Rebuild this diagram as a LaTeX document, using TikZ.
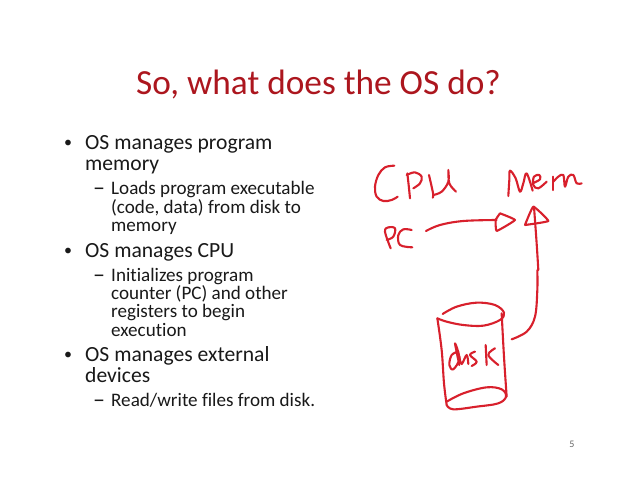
\documentclass[tikz,border=0pt]{standalone}
\usepackage{fontspec}
\setmainfont{Carlito}[Ligatures=NoCommon]
\definecolor{titlered}{RGB}{172,22,30}
\definecolor{ink}{RGB}{216,32,44}
\tikzset{
  x=1pt,y=-1pt,
  ttl/.style={anchor=base west,text=titlered,font=\fontsize{35.3}{35}\selectfont,inner sep=0},
  big/.style={anchor=base west,font=\fontsize{21.6}{22}\selectfont,inner sep=0,text=black!90},
  small/.style={anchor=base west,font=\fontsize{19.1}{19}\selectfont,inner sep=0,text=black!90},
  dot/.style={anchor=base west,font=\fontsize{16}{16}\selectfont,inner sep=0,text=black!90},
  dashmark/.style={anchor=base west,font=\fontsize{24}{24}\selectfont,inner sep=0,text=black!90},
  pen/.style={draw=ink,line width=2.1pt,line cap=round,line join=round,smooth,tension=0.6}
}
\begin{document}
\begin{tikzpicture}
\useasboundingbox (0,0) rectangle (638,493);
\fill[white] (0,0) rectangle (638,493);
\node[ttl] (title) at (136,94) {So, what does the OS do?};
\node[dot] (b1) at (64,147) {•};
\node[big] (t1a) at (85,149) {OS manages program};
\node[big] (t1b) at (85,170) {memory};
\node[dashmark] (d1) at (93,195) {–};
\node[small] (s1a) at (111,194) {Loads program executable};
\node[small] (s1b) at (111,213) {(code, data) from disk to};
\node[small] (s1c) at (111,231) {memory};
\node[dot] (b2) at (64,255) {•};
\node[big] (t2) at (85,257) {OS manages CPU};
\node[dashmark] (d2) at (93,282) {–};
\node[small] (s2a) at (111,281) {Initializes program};
\node[small] (s2b) at (111,299) {counter (PC) and other};
\node[small] (s2c) at (111,317) {registers to begin};
\node[small] (s2d) at (111,336) {execution};
\node[dot] (b3) at (64,359) {•};
\node[big] (t3a) at (85,361) {OS manages external};
\node[big] (t3b) at (85,382) {devices};
\node[dashmark] (d3) at (93,407) {–};
\node[small] (s3) at (111,406) {Read/write files from disk.};
\node[anchor=base,inner sep=0,font=\fontsize{10}{10}\selectfont,text=black!60] (pg) at (572,447) {5};
\begin{scope}[shift={(350,150)},x=0.3333pt,y=-0.3333pt]
% CPU
\draw[pen] plot coordinates {(133,47)(105,52)(85,75)(75,110)(80,140)(100,153)(125,150)(143,140)};
\draw[pen] plot coordinates {(172,70)(176,105)(180,145)};
\draw[pen] plot coordinates {(170,75)(195,67)(215,80)(210,100)(190,115)};
\draw[pen] plot coordinates {(237,75)(245,110)(250,135)(248,143)};
\draw[pen] plot coordinates {(250,135)(275,125)(295,95)(295,60)(298,100)(318,125)};
% Mem
\draw[pen] plot coordinates {(475,138)(478,90)(480,62)(497,85)(510,125)(520,100)(530,70)(548,122)};
\draw[pen] plot coordinates {(548,100)(570,88)(568,75)(552,80)(550,105)(565,115)(590,95)};
\draw[pen] plot coordinates {(610,80)(610,120)};
\draw[pen] plot coordinates {(610,95)(625,80)(640,75)(645,110)(655,80)(670,75)(680,100)(695,100)};
% PC
\draw[pen] plot coordinates {(122,295)(105,245)(115,232)(135,235)(130,260)(110,270)};
\draw[pen] plot coordinates {(185,240)(160,238)(145,255)(150,285)(187,292)};
% arrow PC to Mem
\draw[pen] plot coordinates {(228,243)(270,225)(340,213)(440,210)};
\draw[pen,tension=0.2] plot coordinates {(450,190)(495,210)(440,243)(437,210)(450,190)};
% arrow disk to Mem
\draw[pen] plot coordinates {(565,360)(560,280)(552,170)};
\draw[pen,tension=0.2] plot coordinates {(525,225)(550,170)(595,213)(525,225)};
\end{scope}
\begin{scope}[shift={(420,290)},x=0.3333pt,y=-0.3333pt]
\draw[pen] plot coordinates {(352,-60)(352,0)(345,80)(320,125)(275,148)};
% disk
\draw[pen] plot coordinates {(68,72)(110,50)(170,38)(225,45)(252,68)(240,90)(190,107)(130,105)(80,95)(52,85)};
\draw[pen] plot coordinates {(52,85)(65,180)(72,280)(80,345)};
\draw[pen] plot coordinates {(245,70)(252,200)(260,320)};
\draw[pen] plot coordinates {(80,335)(130,310)(200,292)(245,298)(258,320)(235,340)(170,350)(100,358)(80,345)};
% dusk
\draw[pen] plot coordinates {(115,185)(95,195)(88,225)(100,238)(118,205)(105,160)(118,225)};
\draw[pen] plot coordinates {(118,200)(125,222)(140,195)(145,222)};
\draw[pen] plot coordinates {(165,185)(150,195)(170,215)(155,228)};
\draw[pen] plot coordinates {(197,165)(200,225)};
\draw[pen] plot coordinates {(225,175)(205,195)(235,225)};
\end{scope}
\end{tikzpicture}
\end{document}
